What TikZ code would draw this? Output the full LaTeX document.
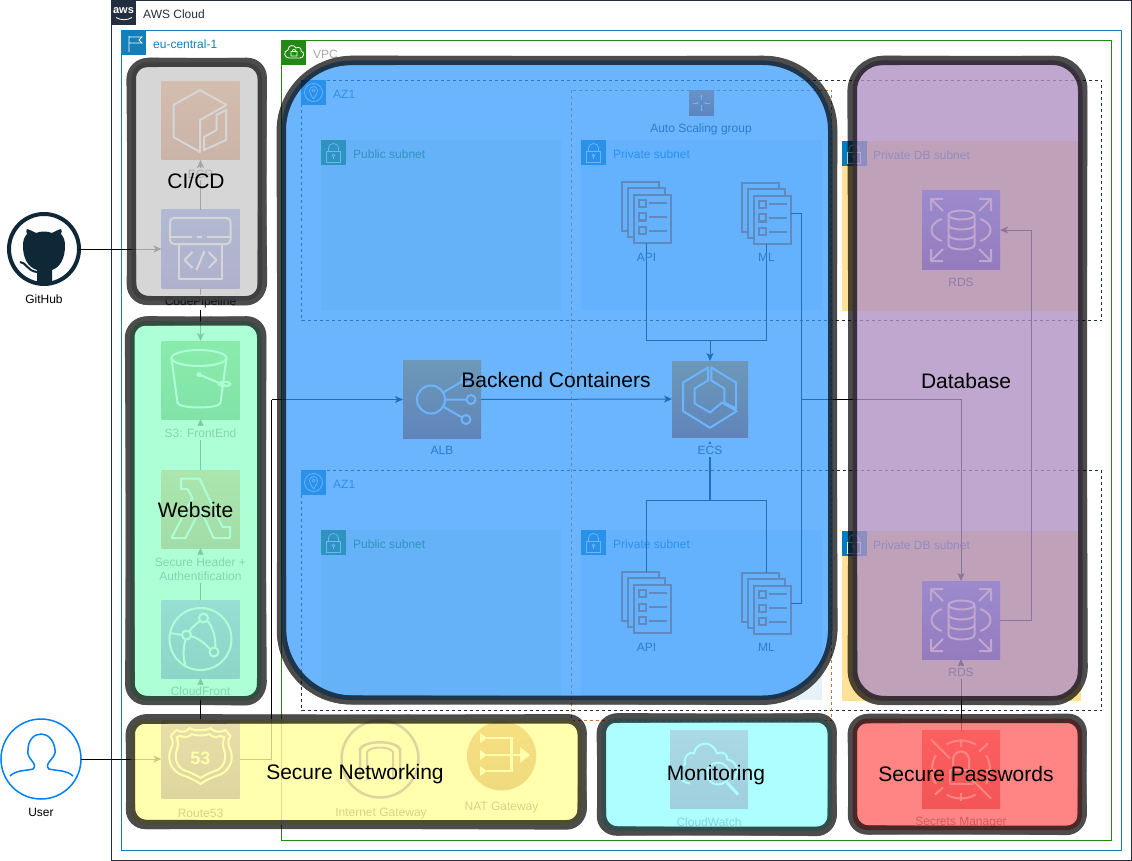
\documentclass[tikz,border=0pt]{standalone}
\usepackage{fontspec}
\setmainfont{Liberation Sans}
\usetikzlibrary{arrows.meta,calc}
\definecolor{awsdark}{HTML}{232F3E}
\definecolor{regionc}{HTML}{147EBA}
\definecolor{vpcc}{HTML}{248814}
\definecolor{dbhead}{HTML}{007DBC}
\definecolor{dbfill}{HTML}{FFE199}
\definecolor{pubfill}{HTML}{E9F3E6}
\definecolor{prifill}{HTML}{E6F2F8}
\definecolor{ghc}{HTML}{0F2838}
\definecolor{userc}{HTML}{007FFF}
\definecolor{orangeT}{HTML}{F58536}
\definecolor{orangeB}{HTML}{C8511B}
\definecolor{ecsT}{HTML}{FF9900}
\definecolor{ecsB}{HTML}{D8500A}
\definecolor{stackc}{HTML}{D86613}
\definecolor{purpT}{HTML}{945DF2}
\definecolor{purpB}{HTML}{5A30B5}
\definecolor{blueT}{HTML}{4D72F3}
\definecolor{blueB}{HTML}{3B48CC}
\definecolor{greenT}{HTML}{4FA02A}
\definecolor{greenB}{HTML}{277116}
\definecolor{pinkT}{HTML}{F34482}
\definecolor{pinkB}{HTML}{BC1356}
\definecolor{redT}{HTML}{F54749}
\definecolor{redB}{HTML}{C7131F}
\definecolor{rdsB}{HTML}{2E27AD}
\definecolor{blobgray}{HTML}{CCCCCC}
\definecolor{blobmint}{HTML}{99FFCC}
\definecolor{blobyellow}{HTML}{FFFF99}
\definecolor{blobcyan}{HTML}{99FFFF}
\definecolor{blobred}{HTML}{FF6666}
\definecolor{blobblue}{HTML}{3399FF}
\definecolor{blobpurple}{HTML}{AF91C3}
\tikzset{
 x=1pt,y=-1pt,
 conn/.style={draw=black,line width=1},
 arrowconn/.style={draw=black,line width=1,-{Stealth[length=8pt,width=7pt,inset=2pt]}},
 awsicon/.style 2 args={top color=#1,bottom color=#2,minimum size=78,inner sep=0,outer sep=0,draw=none},
 headsq/.style={minimum size=25,inner sep=0,outer sep=0,anchor=north west,fill=#1},
 lbl/.style={font=\fontsize{12}{14}\selectfont,text=awsdark,align=center,inner sep=0.5},
 lblbg/.style={lbl,fill=#1,inner ysep=2.2},
 hdr/.style={font=\fontsize{12}{14}\selectfont,text=#1,anchor=west,inner sep=0},
 big/.style={font=\fontsize{21}{24}\selectfont,text=black,inner sep=0},
 gl/.style={draw=white,line width=2,line join=round},
 thin gl/.style={draw=white,line width=0.7},
 dashbox/.style={draw=#1,line width=0.7,dash pattern=on 3pt off 3pt},
 tmpl/.style={minimum width=49,minimum height=61,inner sep=0,outer sep=0},
}
\newcommand{\sublock}[2]{\begin{scope}[shift={(#1,#2)}]
 \draw[thin gl] (5.7,11.3) rectangle (19.3,22);
 \draw[thin gl] (7.5,11.3) -- (7.5,8) arc (180:360:5 and 4.5) -- (17.5,11.3);
 \draw[thin gl] (12.5,15.5) circle (1.3) (12.5,16.8) -- (12.5,19);
\end{scope}}
\newcommand{\azpin}[2]{\begin{scope}[shift={(#1,#2)}]
 \draw[thin gl] (12.5,12.5) circle (9);
 \draw[thin gl] (12.5,19) .. controls (9,14) and (8.5,12) .. (8.5,10.5) arc (180:360:4) .. controls (16.5,12) and (16,14) .. (12.5,19);
 \draw[thin gl] (12.5,10.5) circle (1.5);
\end{scope}}
\newcommand{\stackicon}[2]{\begin{scope}[shift={(#1,#2)},line width=2,draw=stackc,fill=prifill]
 \filldraw (0,0) rectangle (37,49);
 \filldraw (6.3,6.3) rectangle (43,54.5);
 \filldraw (12.3,12.7) rectangle (49,61);
 \foreach \yy in {21.3,35,48.7}{
  \draw (17.3,\yy-3.5) rectangle (24.3,\yy+3.5);
  \draw (27.3,\yy) -- (44.7,\yy);}
\end{scope}}
\newcommand{\rdsglyph}[2]{\begin{scope}[shift={(#1,#2)}]
 \draw[gl] (26.5,24) -- (26.5,54) arc (180:0:13 and 4.5) -- (52.5,24);
 \draw[gl] (39.5,24) ellipse (13 and 4.5);
 \draw[gl] (26.5,34) arc (180:0:13 and 4.5) (26.5,44) arc (180:0:13 and 4.5);
 \draw[gl] (19.7,28) .. controls (12,31) and (9.5,35) .. (9.5,39) .. controls (9.5,43) and (12,47) .. (19.7,50);
 \draw[gl] (58.3,28) .. controls (66,31) and (68.5,35) .. (68.5,39) .. controls (68.5,43) and (66,47) .. (58.3,50);
 \draw[gl] (9,20) -- (9,8) -- (21,8) (9,8) -- (21,20);
 \draw[gl] (69,20) -- (69,8) -- (57,8) (69,8) -- (57,20);
 \draw[gl] (9,58) -- (9,70) -- (21,70) (9,70) -- (21,58);
 \draw[gl] (69,58) -- (69,70) -- (57,70) (69,70) -- (57,58);
\end{scope}}
\newcommand{\blob}[7]{% colour, x0, y0, x1, y1, radius, fill opacity
 \fill[#1,fill opacity=#7,rounded corners=#6] (#2,#3) rectangle (#4,#5);
 \begin{scope}[transparency group,opacity=.7,line join=round]
  \draw[black,line width=9,rounded corners=#6] (#2,#3) rectangle (#4,#5);
  \draw[black,line width=8,rounded corners=#6] (#2-1.2,#3+.9) -- (#4+1,#3-1) -- (#4-.6,#5+1.2) -- (#2+.9,#5-.8) -- cycle;
  \draw[black,line width=6,rounded corners=#6+2] (#2+.3,#3-2) -- (#4-.5,#3-.8) -- (#4+2.4,#5-.6) -- (#2-2,#5+1.7) -- cycle;
 \end{scope}}
\begin{document}
\begin{tikzpicture}
\useasboundingbox (0,0) rectangle (1132,861);
\fill[white] (0,0) rectangle (1132,861);
% containers
\draw[awsdark,line width=1] (111.5,0.5) rectangle (1131.5,860.5);
\node[headsq=awsdark] (awshead) at (111,0) {};
\node[font=\bfseries\fontsize{11}{11}\selectfont,text=white,inner sep=0] (awstext) at (123.5,10.5) {aws};
\draw[white,line width=0.8] (116,17.5) .. controls (121,20.5) and (127,20.5) .. (132,17.5);
\node[hdr=awsdark] (awslbl) at (143,14) {AWS Cloud};
\draw[regionc,line width=1] (121.5,30.5) rectangle (1121.5,850.5);
\node[headsq=regionc] (reghead) at (121,30) {};
\draw[thin gl,line width=.8] (129,52) -- (129,36) (129,37) -- (142,37) -- (139,40) -- (142,43) -- (129,43);
\node[hdr=regionc] (reglbl) at (153,44) {eu-central-1};
\draw[vpcc,line width=1] (281.5,40.5) rectangle (1111.5,840.5);
\node[headsq=vpcc] (vpchead) at (281,40) {};
\draw[thin gl,line width=.8] (289,58) .. controls (284,58) and (283,51) .. (288,50) .. controls (288,45) and (294,44) .. (296,48) .. controls (299,46) and (302,49) .. (301,51) .. controls (305,52) and (304,58) .. (300,58) -- cycle;
\draw[thin gl] (291,51.5) rectangle (297,56) (292,51.5) arc (180:360:2 and 2);
\node[hdr={black!35!white}] (vpclbl) at (313,54) {VPC};
% subnets
\fill[pubfill] (321,140) rectangle (561,310);
\fill[prifill] (581,140) rectangle (821.5,310);
\fill[dbfill] (841.5,141) rectangle (1081,311);
\fill[pubfill] (321,530) rectangle (561,700);
\fill[prifill] (581,530) rectangle (821.5,700);
\fill[dbfill] (841.5,531) rectangle (1081,701);
% AZ + ASG
\draw[dashbox=awsdark] (301.5,80.5) rectangle (1101.5,320.5);
\draw[dashbox=awsdark] (301.5,470.5) rectangle (1101.5,710.5);
\draw[dashbox=orangeT!85!black] (571.5,90.5) rectangle (831.5,720.5);
\node[headsq=regionc] (az1head) at (301,80) {};
\azpin{301}{80}
\node[hdr=regionc] (az1lbl) at (333,94) {AZ1};
\node[headsq=regionc] (az2head) at (301,470) {};
\azpin{301}{470}
\node[hdr=regionc] (az2lbl) at (333,484) {AZ1};
\node[headsq=vpcc] (pub1head) at (321,140) {};
\sublock{321}{140}
\node[hdr=vpcc] (pub1lbl) at (353,154) {Public subnet};
\node[headsq=regionc] (pri1head) at (581,140) {};
\sublock{581}{140}
\node[hdr=regionc] (pri1lbl) at (613,154) {Private subnet};
\node[headsq=vpcc] (pub2head) at (321,530) {};
\sublock{321}{530}
\node[hdr=vpcc] (pub2lbl) at (353,544) {Public subnet};
\node[headsq=regionc] (pri2head) at (581,530) {};
\sublock{581}{530}
\node[hdr=regionc] (pri2lbl) at (613,544) {Private subnet};
\node[headsq=dbhead] (db1head) at (841.5,141) {};
\sublock{841.5}{141}
\node[hdr=regionc] (db1lbl) at (873,155.5) {Private DB subnet};
\node[headsq=dbhead] (db2head) at (841.5,531) {};
\sublock{841.5}{531}
\node[hdr=regionc] (db2lbl) at (873,545.5) {Private DB subnet};
% Auto scaling icon
\node[minimum size=25,inner sep=0,outer sep=0,top color=orangeT,bottom color=orangeB] (asg) at (701.5,103) {};
\begin{scope}[shift={(689,90.5)}]
 \draw[thin gl,-{Stealth[length=2.5pt,width=2pt]}] (12.5,10) -- (12.5,4);
 \draw[thin gl,-{Stealth[length=2.5pt,width=2pt]}] (12.5,15) -- (12.5,21);
 \draw[thin gl,-{Stealth[length=2.5pt,width=2pt]}] (4,12.5) -- (10,12.5);
 \draw[thin gl,-{Stealth[length=2.5pt,width=2pt]}] (21,12.5) -- (15,12.5);
\end{scope}
% icons
\node[awsicon={orangeT}{orangeB}] (ecr) at (200.5,121) {};
\node[awsicon={blueT}{blueB}] (pipe) at (200.5,249) {};
\node[awsicon={greenT}{greenB}] (s3) at (200.5,380) {};
\node[awsicon={orangeT}{orangeB}] (lambda) at (200.5,509) {};
\node[awsicon={purpT}{purpB}] (cf) at (200.5,639) {};
\node[awsicon={purpT}{purpB}] (r53) at (200.5,759) {};
\node[awsicon={ecsT}{ecsB}] (alb) at (442,399.5) {};
\node[awsicon={ecsT}{ecsB},minimum size=76] (ecs) at (710,399) {};
\node[awsicon={blueT}{rdsB}] (rds1) at (961,230) {};
\node[awsicon={blueT}{rdsB}] (rds2) at (961,620) {};
\node[awsicon={pinkT}{pinkB}] (cw) at (709,769.5) {};
\node[awsicon={redT}{redB}] (sm) at (961,769.5) {};
% glyphs
\begin{scope}[shift={(161.5,82)}]
 \draw[gl] (65,23) -- (38.5,8) -- (12,23) -- (12,55) -- (38.5,70) -- (38.5,38) -- (65,23);
 \draw[gl] (64.5,28) -- (64.5,58) -- (42.5,68) -- (42.5,55) -- (55,48) -- (55,33) -- cycle;
\end{scope}
\begin{scope}[shift={(161.5,210)}]
 \draw[gl,rounded corners=4] (8.5,8) rectangle (69,34);
 \draw[gl] (8.5,27) -- (30,27) (35,27) -- (40,27) (45,27) -- (69,27);
 \draw[gl] (17.5,34) -- (17.5,69) -- (60,69) -- (60,34);
 \draw[gl] (31,42) -- (23,50) -- (31,58) (47,42) -- (55,50) -- (47,58) (43,41) -- (35,60);
\end{scope}
\begin{scope}[shift={(161.5,341)}]
 \draw[gl] (37.5,17) ellipse (27.5 and 8);
 \draw[gl] (10,17) -- (16,62) .. controls (18,68) and (57,68) .. (59,62) -- (65,17);
 \draw[gl] (37.5,33.5) -- (65,45);
 \draw[gl] (63,43) ellipse (6 and 2.2);
 \fill[white] (37.5,33.5) circle (2.5);
\end{scope}
\begin{scope}[shift={(161.5,470)}]
 \draw[gl] (19.5,8.5) -- (38,8.5) -- (61,57) -- (68.5,57) -- (68.5,68) -- (52,68) -- (39,39) -- (24,68) -- (10,68) -- (31,28) -- (26,19) -- (19.5,19) -- cycle;
\end{scope}
\begin{scope}[shift={(161.5,600)}]
 \draw[gl] (39,39) circle (31);
 \draw[gl] (42,18) circle (4.5) (25,35) circle (4.5) (52.5,52) circle (4.5);
 \draw[gl] (38.5,21) .. controls (33,25) and (30,28) .. (28,31);
 \draw[gl] (46,21) .. controls (52,28) and (54,38) .. (54,47);
 \draw[gl] (29.5,36) .. controls (36,38) and (42,42) .. (48.5,49);
 \draw[gl] (21,35) -- (8,33) (24,39.5) .. controls (21,50) and (22,60) .. (24,66);
\end{scope}
\begin{scope}[shift={(161.5,720)}]
 \draw[gl] (15,10) .. controls (20,13) and (26,12) .. (28,8) .. controls (32,11) and (45,11) .. (49,8) .. controls (52,12) and (58,13) .. (64,10) -- (69,16) .. controls (66,20) and (66,24) .. (69,30) .. controls (72,38) and (70,48) .. (60,54) .. controls (52,57) and (44,60) .. (39,64) .. controls (34,60) and (26,57) .. (18,54) .. controls (8,48) and (6,38) .. (9,30) .. controls (12,24) and (12,20) .. (9,16) -- cycle;
 \draw[gl] (19,16) .. controls (24,18) and (28,17) .. (30,14) .. controls (34,16) and (44,16) .. (48,14) .. controls (50,17) and (54,18) .. (59,16) -- (63,17) .. controls (61,22) and (61,26) .. (63,31) .. controls (65,39) and (63,46) .. (56,50) .. controls (50,52) and (43,55) .. (39,58) .. controls (35,55) and (28,52) .. (22,50) .. controls (15,46) and (13,39) .. (15,31) .. controls (17,26) and (17,22) .. (15,17) -- cycle;
\end{scope}
\node[font=\bfseries\fontsize{18}{18}\selectfont,text=white,inner sep=0] (r53num) at (200.5,758) {53};
\begin{scope}[shift={(403,360.5)}]
 \draw[gl] (28,39) circle (14);
 \draw[gl] (63,19) circle (4.5) (68,39) circle (4.5) (63,59) circle (4.5);
 \draw[gl] (40,32) -- (59,21) (42,39) -- (63.5,39) (40,46) -- (59,57);
\end{scope}
\begin{scope}[shift={(671,360.5)}]
 \draw[gl] (37,7) -- (12,22) -- (12,50.6) -- (39,67.3) -- (65.7,50.6) -- (51,42) -- (39,52) -- (23.7,43) -- (23.7,28) -- (37,20) -- cycle;
 \draw[gl] (40.3,7) -- (65,22) -- (65,48) -- (53.3,42) -- (53.3,28) -- (40.3,20) -- cycle;
\end{scope}
\stackicon{622}{182}
\stackicon{742}{183}
\stackicon{622}{572}
\stackicon{742}{573}
\rdsglyph{922}{191}
\rdsglyph{922}{581}
\begin{scope}[shift={(670,730.5)}]
 \draw[gl] (20,53) .. controls (8,52) and (6,38) .. (15,34) .. controls (13,26) and (20,20) .. (24,23) .. controls (25,12) and (42,8) .. (47,23) .. controls (53,20) and (58,24) .. (57,29) .. controls (68,30) and (70,44) .. (62,50);
 \draw[gl] (48,43) circle (11);
 \draw[gl,line width=3] (56,51) -- (68,64);
\end{scope}
\begin{scope}[shift={(922,730.5)}]
 \draw[gl] (39,10) arc (270:240:29) (39,10) arc (270:300:29);
 \draw[gl] (39,68) arc (90:60:29) (39,68) arc (90:120:29);
 \draw[gl] (10,39) arc (180:150:29) (10,39) arc (180:210:29);
 \draw[gl] (68,39) arc (0:30:29) (68,39) arc (0:-30:29);
 \draw[gl] (39,8) -- (39,16) (39,62) -- (39,70) (8,39) -- (14,39) (64,39) -- (70,39);
 \draw[gl] (9,9) -- (28,28) (49,48) -- (69,68) (66,13) -- (57,21) (13,64) -- (21,57);
 \draw[gl] (28,39) rectangle (51,53);
 \draw[gl] (31,39) -- (31,29) arc (180:360:8) -- (47,39);
\end{scope}
% gateways
\node[circle,draw=purpB,line width=2.5,minimum size=77,inner sep=0,outer sep=0] (igw) at (380,759) {};
\draw[purpB,line width=2.5] (360,780) -- (360,749) .. controls (365,740) and (395,740) .. (400,749) -- (400,780);
\draw[purpB,line width=2] (367,780) -- (367,752) .. controls (371,746) and (389,746) .. (393,752) -- (393,780);
\node[circle,top color=orangeT!40!orangeB,bottom color=orangeB!90!black,minimum size=69,inner sep=0,outer sep=0] (nat) at (501.7,756) {};
\fill[white] (480,733) -- (487,738) -- (480,743) -- cycle (480,750) -- (487,755) -- (480,760) -- cycle (480,766) -- (487,771) -- (480,776) -- cycle (520,747) -- (530,755) -- (520,763) -- cycle;
\draw[white,line width=2.5] (487,738) -- (511.5,738) -- (511.5,771) -- (487,771) (487,755) -- (522,755);
% GitHub
\node[circle,draw=ghc,line width=4,minimum size=70,inner sep=0,outer sep=0] (github) at (44,249) {};
\fill[ghc] (37,283) -- (37,270) .. controls (27,267) and (23,257) .. (23,246) .. controls (23,241) and (24,237) .. (27,234) .. controls (26,232) and (26,230) .. (27,229) .. controls (30,230) and (33,231) .. (36,233) .. controls (41,231) and (47,231) .. (52,233) .. controls (55,231) and (58,230) .. (61,229) .. controls (62,230) and (62,232) .. (61,234) .. controls (64,237) and (65,241) .. (65,246) .. controls (65,257) and (61,267) .. (52,270) -- (52,283) -- cycle;
\draw[ghc,line width=2] (20,262) .. controls (26,262) and (27,271) .. (37,272);
\node[font=\fontsize{12}{14}\selectfont,inner sep=0] (ghlbl) at (44,299) {GitHub};
% User
\node[circle,draw=userc,line width=1.5,minimum size=80,inner sep=0,outer sep=0] (user) at (41,759) {};
\draw[userc,line width=1.5] (10,776) .. controls (16,770) and (25,771) .. (33,769) .. controls (36,767) and (34,763) .. (32,761) .. controls (29,757) and (27,754) .. (28,750) .. controls (28,740) and (34,734) .. (41,734) .. controls (48,734) and (54,740) .. (55,750) .. controls (56,754) and (53,757) .. (50,761) .. controls (48,763) and (46,767) .. (49,769) .. controls (57,771) and (67,770) .. (73,776);
\node[font=\fontsize{12}{14}\selectfont,inner sep=0] (userlbl) at (41,812.5) {User};
% connectors
\coordinate (ra) at (271.5,399.5);
\coordinate (j1) at (710,340.5);
\coordinate (j2) at (710,500.5);
\coordinate (j3) at (801.5,399.5);
\draw[arrowconn] (github.east) -- (pipe.west);
\draw[arrowconn] (pipe.north) -- (ecr.south);
\draw[arrowconn] (pipe.south) -- (s3.north);
\draw[arrowconn] (lambda.north) -- (s3.south);
\draw[arrowconn] (cf.north) -- (lambda.south);
\draw[arrowconn] (r53.north) -- (cf.south);
\draw[arrowconn] (user.east) -- (r53.west);
\draw[conn] (r53.east) -| (ra);
\draw[arrowconn] (ra) -- (alb.west);
\draw[arrowconn] (alb.east) -- (ecs.west);
\node[tmpl] (api1) at (646.5,212.5) {};
\node[tmpl] (ml1) at (766.5,213.5) {};
\node[tmpl] (api2) at (646.5,602.5) {};
\node[tmpl] (ml2) at (766.5,603.5) {};
\draw[conn] (api1.south) |- (j1);
\draw[conn] (ml1.south) |- (j1);
\draw[arrowconn] (j1) -- (ecs.north);
\draw[conn] (api2.north) |- (j2);
\draw[conn] (ml2.north) |- (j2);
\draw[arrowconn,line width=2,shorten >=4pt] (j2) -- (ecs.south);
\draw[conn] (ml1.east) -| (j3);
\draw[conn] (ml2.east) -| (j3);
\draw[arrowconn] (j3) -| (rds2.north);
\draw[arrowconn] (rds2.east) -- ++(31,0) |- (rds1.east);
\draw[arrowconn] (sm.north) -- (rds2.south);
% labels
\node[lblbg=white] (ecrlbl) at (200.5,174) {ECR};
\node[lblbg=white] (pipelbl) at (200.5,302.5) {CodePipeline};
\node[lblbg=white] (s3lbl) at (200.5,433) {S3: FrontEnd};
\node[lblbg=white] (lamlbl) at (200.5,569) {Secure Header +\\Authentification};
\node[lblbg=white] (cflbl) at (200.5,691.5) {CloudFront};
\node[lbl] (r53lbl) at (200.5,813) {Route53};
\node[lbl] (alblbl) at (442,450.5) {ALB};
\node[lblbg=white] (ecslbl) at (710,450.5) {ECS};
\node[lbl] (asglbl) at (701,129.5) {Auto Scaling group};
\node[lbl] (api1lbl) at (646.5,257) {API};
\node[lbl] (ml1lbl) at (766.5,257) {ML};
\node[lbl] (api2lbl) at (646.5,647) {API};
\node[lbl] (ml2lbl) at (766.5,647) {ML};
\node[lbl] (rds1lbl) at (961,282) {RDS};
\node[lblbg=dbfill] (rds2lbl) at (961,672.5) {RDS};
\node[lbl] (igwlbl) at (381,813.5) {Internet Gateway};
\node[lbl] (natlbl) at (501.5,807.5) {NAT Gateway};
\node[lbl] (cwlbl) at (709,822) {CloudWatch};
\node[lbl] (smlbl) at (961,823) {Secrets Manager};
% highlight blobs
\blob{blobgray}{131.5}{62.5}{262}{300.5}{16}{.8}
\blob{blobmint}{130}{321}{261.5}{700.5}{16}{.8}
\blob{blobyellow}{130.5}{719}{582}{824.5}{15}{.8}
\blob{blobcyan}{601.5}{718}{832}{831}{15}{.8}
\blob{blobred}{852.5}{718.5}{1082}{830}{15}{.8}
\blob{blobblue}{281.5}{60.5}{832.5}{700}{70}{.72}
\blob{blobpurple}{852.5}{60.5}{1082.5}{700.5}{30}{.8}
% blob titles
\node[big] (t1) at (196,181) {CI/CD};
\node[big] (t2) at (195.5,510) {Website};
\node[big] (t3) at (556,380) {Backend Containers};
\node[big] (t4) at (966,381) {Database};
\node[big] (t5) at (355,774) {Secure Networking};
\node[big] (t6) at (716,775) {Monitoring};
\node[big] (t7) at (966,773.5) {Secure Passwords};
\end{tikzpicture}
\end{document}
